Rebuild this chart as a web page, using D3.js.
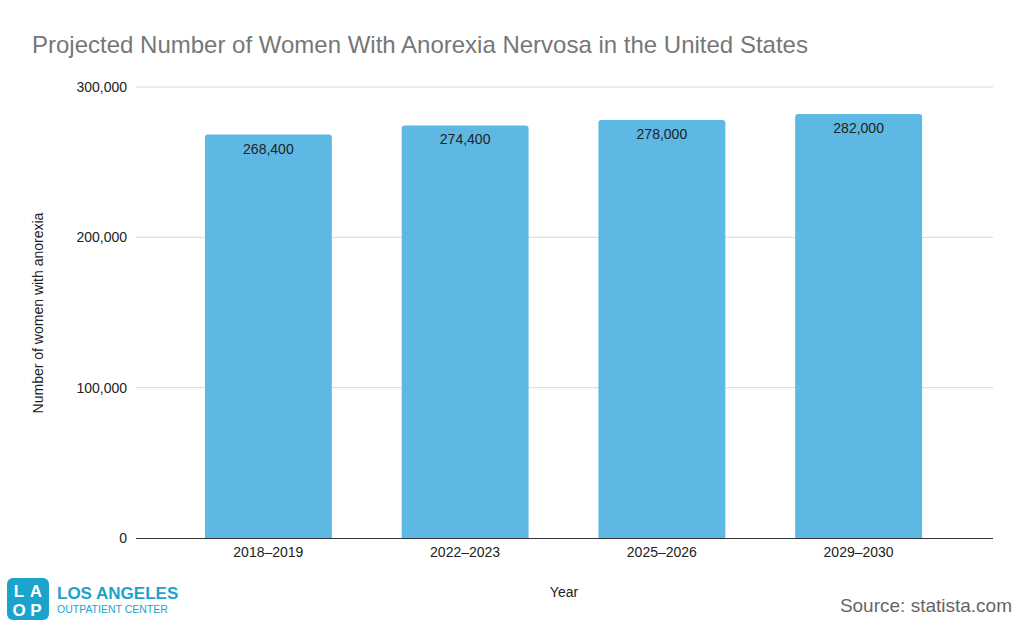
<!DOCTYPE html>
<html><head><meta charset="utf-8">
<script src="https://cdnjs.cloudflare.com/ajax/libs/d3/7.8.5/d3.min.js"></script>
<style>body{margin:0;background:#fff;font-family:"Liberation Sans",Arial,sans-serif}</style>
</head><body><svg id="c" width="1024" height="633"></svg>
<script>
const categories=["2018–2019","2022–2023","2025–2026","2029–2030"];
const values=[268400,274400,278000,282000];
const yTicks=[0,100000,200000,300000];
const svg=d3.select("#c");
const x=d3.scaleBand().domain(categories).range([170,957]).paddingInner(0.355).paddingOuter(0.1775);
const y=d3.scaleLinear().domain([0,300000]).range([538,87]);
const fmt=d3.format(",");
svg.append("text").attr("x",32).attr("y",53).attr("font-size",24).attr("fill","#777").text("Projected Number of Women With Anorexia Nervosa in the United States");
yTicks.forEach(t=>{
  if(t>0)svg.append("line").attr("x1",136).attr("x2",993).attr("y1",y(t)).attr("y2",y(t)).attr("stroke","#d9d9d9");
  svg.append("text").attr("x",127).attr("y",y(t)+5).attr("text-anchor","end").attr("font-size",14).attr("fill","#222").text(fmt(t));
});
values.forEach((v,i)=>{
  const bx=x(categories[i]),w=x.bandwidth(),top=y(v),h=y(0)-top,r=3;
  svg.append("path").attr("fill","#5eb8e4").attr("d",`M${bx},${top+h}V${top+r}Q${bx},${top} ${bx+r},${top}H${bx+w-r}Q${bx+w},${top} ${bx+w},${top+r}V${top+h}Z`);
  svg.append("text").attr("x",bx+w/2).attr("y",top+19).attr("text-anchor","middle").attr("font-size",14).attr("fill","#222").text(fmt(v));
  svg.append("text").attr("x",bx+w/2).attr("y",557).attr("text-anchor","middle").attr("font-size",14).attr("fill","#222").text(categories[i]);
});
svg.append("line").attr("x1",136).attr("x2",993).attr("y1",538.5).attr("y2",538.5).attr("stroke","#333");
svg.append("text").attr("x",564).attr("y",597).attr("text-anchor","middle").attr("font-size",14).attr("fill","#222").text("Year");
svg.append("text").attr("transform","translate(43,313) rotate(-90)").attr("text-anchor","middle").attr("font-size",14).attr("fill","#222").text("Number of women with anorexia");
svg.append("text").attr("x",1012).attr("y",612).attr("text-anchor","end").attr("font-size",19).attr("fill","#666").text("Source: statista.com");
// logo
const g=svg.append("g");
g.append("rect").attr("x",7).attr("y",578).attr("width",42).attr("height",42).attr("rx",6).attr("fill","#1aa3cc");
[["L",19,597],["A",36,597],["O",19,616],["P",36,616]].forEach(([t,a,b])=>g.append("text").attr("x",a).attr("y",b).attr("text-anchor","middle").attr("font-size",17).attr("font-weight","bold").attr("fill","#fff").text(t));
g.append("text").attr("x",57).attr("y",599).attr("font-size",17).attr("font-weight","bold").attr("fill","#1aa3cc").text("LOS ANGELES");
g.append("text").attr("x",57).attr("y",613).attr("font-size",10.5).attr("fill","#1aa3cc").text("OUTPATIENT CENTER");
</script></body></html>
